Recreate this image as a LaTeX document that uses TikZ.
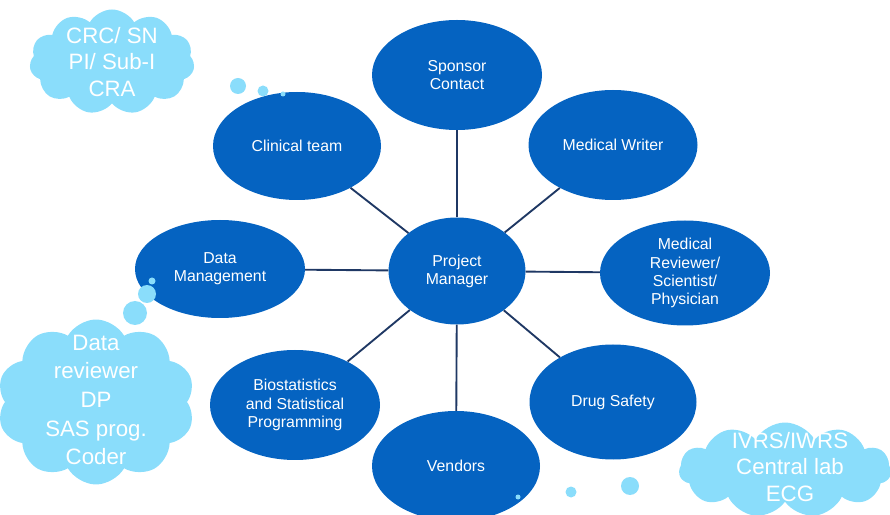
\documentclass[tikz,border=0pt]{standalone}
\usepackage{fontspec}
\setmainfont{Liberation Sans}
\usetikzlibrary{shapes.symbols,shapes.geometric}
\definecolor{eb}{HTML}{0563C1}
\definecolor{cb}{HTML}{8ADDFB}
\definecolor{ln}{HTML}{1F3864}
\begin{document}
\begin{tikzpicture}[x=0.03cm,y=-0.03cm,
 el/.style={ellipse,fill=eb,text=white,align=center,inner sep=0pt,font=\fontsize{13.5}{15.5}\selectfont},
 cl/.style={cloud,cloud puffs=11,cloud puff arc=120,cloud ignores aspect,fill=cb,inner sep=0pt},
 ct/.style={text=white,align=center,font=\fontsize{19}{23}\selectfont},
 bub/.style={circle,fill=cb,inner sep=0pt},
 con/.style={draw=ln,line width=1.6pt}]
\useasboundingbox (0,0) rectangle (890,515);
\node[el,minimum width=137*0.03cm,minimum height=107*0.03cm] (pm) at (457,271) {Project\\Manager};
\node[el,minimum width=170*0.03cm,minimum height=110*0.03cm] (sc) at (457,75) {Sponsor\\Contact};
\node[el,minimum width=168*0.03cm,minimum height=108*0.03cm] (ct) at (297,146) {Clinical team};
\node[el,minimum width=169*0.03cm,minimum height=110*0.03cm] (mw) at (613,145) {Medical Writer};
\node[el,minimum width=170*0.03cm,minimum height=98*0.03cm] (dm) at (220,269) {Data\\Management};
\node[el,minimum width=170*0.03cm,minimum height=105*0.03cm] (mr) at (685,273) {Medical\\Reviewer/\\Scientist/\\Physician};
\node[el,minimum width=170*0.03cm,minimum height=110*0.03cm] (bs) at (295,405) {Biostatistics\\and Statistical\\Programming};
\node[el,minimum width=167*0.03cm,minimum height=115*0.03cm] (ds) at (613,402) {Drug Safety};
\node[el,minimum width=168*0.03cm,minimum height=110*0.03cm] (vd) at (456,466) {Vendors};
\foreach \n in {sc,ct,mw,dm,mr,bs,ds,vd} \draw[con] (pm) -- (\n);
\node[cl,minimum width=165*0.03cm,minimum height=105*0.03cm] (c1) at (112,62) {};
\node[ct] (t1) at (112,62) {CRC/ SN\\PI/ Sub-I\\CRA};
\node[cl,cloud puffs=10,minimum width=198*0.03cm,minimum height=165*0.03cm] (c2) at (96,402) {};
\node[ct,font=\fontsize{19}{24.5}\selectfont] (t2) at (96,400) {Data\\reviewer\\DP\\SAS prog.\\Coder};
\node[cl,minimum width=212*0.03cm,minimum height=95*0.03cm] (c3) at (785,470) {};
\node[ct] (t3) at (790,467) {IVRS/IWRS\\Central lab\\ECG};
\node[bub,minimum size=16*0.03cm] (b1) at (238,86) {};
\node[bub,minimum size=11*0.03cm] (b2) at (263,91) {};
\node[bub,minimum size=5*0.03cm] (b3) at (283,94) {};
\node[bub,minimum size=7*0.03cm] (b4) at (152,281) {};
\node[bub,minimum size=18*0.03cm] (b5) at (147,294) {};
\node[bub,minimum size=24*0.03cm] (b6) at (135,313) {};
\node[bub,minimum size=5*0.03cm] (b7) at (518,497) {};
\node[bub,minimum size=11*0.03cm] (b8) at (571,492) {};
\node[bub,minimum size=18*0.03cm] (b9) at (630,486) {};
\end{tikzpicture}
\end{document}
